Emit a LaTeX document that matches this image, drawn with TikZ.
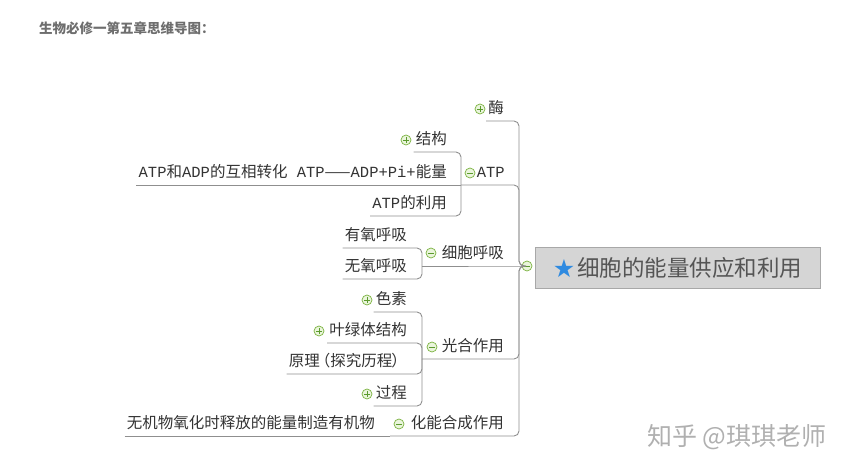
\documentclass[tikz,border=0pt]{standalone}
\usepackage{fontspec}
\setmainfont{Noto Sans CJK SC}
\setmonofont{Liberation Mono}
\newfontfamily\symfont{DejaVu Sans}
\definecolor{textgray}{HTML}{333333}
\definecolor{linegray}{HTML}{8F8F8F}
\definecolor{icongreen}{HTML}{7CB342}
\definecolor{iconfill}{HTML}{EAF5DC}
\definecolor{icondark}{HTML}{5B9A2E}
\definecolor{boxfill}{HTML}{D5D5D5}
\definecolor{boxdraw}{HTML}{A8A8A8}
\definecolor{boxtext}{HTML}{555555}
\definecolor{starblue}{HTML}{2F8AE0}
\definecolor{titlegray}{HTML}{6E6E6E}
\definecolor{markgray}{HTML}{B0B0B0}
\begin{document}
\begin{tikzpicture}[x=1pt,y=-1pt]
\tikzset{
  topic/.style={anchor=south east, inner xsep=2pt, inner ysep=4pt, text height=11pt, text depth=3pt,
    font=\fontsize{15.5}{16}\selectfont, text=textgray},
  conn/.style={draw=linegray, line width=0.9pt, rounded corners=5pt},
  icon/.style={circle, draw=icongreen, fill=iconfill, minimum size=10pt, inner sep=0pt, line width=0.7pt},
  plusicon/.style={icon, path picture={\draw[icondark,line width=0.9pt]
     ([xshift=-2.8pt]path picture bounding box.center) -- ([xshift=2.8pt]path picture bounding box.center)
     ([yshift=-2.8pt]path picture bounding box.center) -- ([yshift=2.8pt]path picture bounding box.center);}},
  minusicon/.style={icon, path picture={\draw[icondark,line width=0.9pt]
     ([xshift=-2.8pt]path picture bounding box.center) -- ([xshift=2.8pt]path picture bounding box.center);}},
}
\useasboundingbox (0,0) rectangle (852,471);

% title
\node[anchor=west, inner sep=0pt, text=titlegray, font=\fontsize{13.5}{14}\selectfont\bfseries] (title) at (39,28) {生物必修一第五章思维导图：};

% central topic
\node[draw=boxdraw, fill=boxfill, line width=0.8pt, minimum width=285pt, minimum height=41pt, inner sep=0pt,
      text=boxtext, font=\fontsize{22.5}{23}\selectfont] (center) at (677.5,267.5)
  {{\symfont\fontsize{25}{25}\selectfont\textcolor{starblue}{\raisebox{-1pt}{★}}}\hspace{2pt}细胞的能量供应和利用};
\node[minusicon] (cc) at (527,266) {};
\coordinate (hub) at (519,266);

% first-level topics
\node[topic] (mei) at (506,121) {酶};
\node[topic] (atp) at (507,185) {\texttt{ATP}};
\node[topic] (huxi) at (506,266) {细胞呼吸};
\node[topic] (guanghe) at (506,359) {光合作用};
\node[topic] (huaneng) at (506,436) {化能合成作用};

% ATP children
\node[topic] (jiegou) at (449,152) {结构};
\node[topic] (zhuanhua) at (449,185) {\texttt{ATP}和\texttt{ADP}的互相转化\texttt{ ATP}——\texttt{ADP+Pi+}能量};
\node[topic] (liyong) at (449,216) {\texttt{ATP}的利用};

% respiration children
\node[topic] (youyang) at (409,248) {有氧呼吸};
\node[topic] (wuyang) at (409,279) {无氧呼吸};

% photosynthesis children
\node[topic] (sesu) at (409,312) {色素};
\node[topic] (yelv) at (409,343) {叶绿体结构};
\node[topic] (yuanli) at (409,374) {原理\hspace{-5pt}（探究历程\hspace{-1pt}）\hspace{-5pt}};
\node[topic] (guocheng) at (409,406) {过程};

% chemosynthesis child
\node[topic] (wuji) at (377,436) {无机物氧化时释放的能量制造有机物};

% icons
\node[plusicon] (imei) at (480,109) {};
\node[minusicon] (iatp) at (470,173) {};
\node[plusicon] (ijiegou) at (406,140) {};
\node[minusicon] (ihuxi) at (431,253) {};
\node[minusicon] (iguanghe) at (432,347) {};
\node[plusicon] (isesu) at (367,300) {};
\node[plusicon] (iyelv) at (319,331) {};
\node[plusicon] (iguocheng) at (367,394) {};
\node[minusicon] (ihuaneng) at (399,424) {};

% joints
\coordinate (atpj) at (461,185);
\coordinate (huxij) at (422,266);
\coordinate (ghj) at (422,359);
\coordinate (hnj) at (390,436);

% connectors: spine
\draw[conn] (mei.south west) -| (hub) [sharp corners] -- (cc);
\draw[conn] (atpj) -| (hub) [sharp corners] -- (cc);
\draw[conn] (huxij) -- (hub) -- (cc);
\draw[conn] (ghj) -| (hub) [sharp corners] -- (cc);
\draw[conn] (hnj) -| (hub) [sharp corners] -- (cc);

% ATP branch
\draw[conn] (jiegou.south west) -| (atpj);
\draw[conn] (zhuanhua.south west) -- (atpj);
\draw[conn] (liyong.south west) -| (atpj);

% respiration branch
\draw[conn] (youyang.south west) -| (huxij);
\draw[conn] (wuyang.south west) -| (huxij);

% photosynthesis branch
\draw[conn] (sesu.south west) -| (ghj);
\draw[conn] (yelv.south west) -| (ghj);
\draw[conn] (yuanli.south west) -| (ghj);
\draw[conn] (guocheng.south west) -| (ghj);

% chemosynthesis branch
\draw[conn] (wuji.south west) -- (hnj);

% watermark
\node[inner sep=0pt, text=markgray, font=\fontsize{25}{26}\selectfont] (mark) at (737,437) {知乎 @琪琪老师};
\end{tikzpicture}
\end{document}
